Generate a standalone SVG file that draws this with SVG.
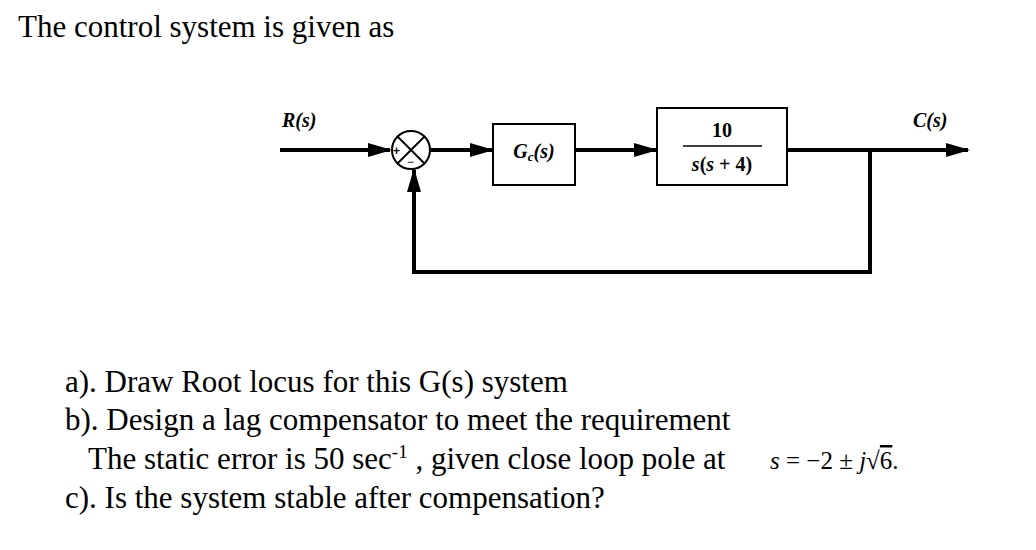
<svg xmlns="http://www.w3.org/2000/svg" width="1036" height="550" viewBox="0 0 1036 550">
<style>
.t{font-family:"Liberation Serif",serif;font-size:31px;fill:#000}
.d{font-family:"Liberation Serif",serif;font-size:20px;font-weight:bold;fill:#000}
.w{stroke:#000;stroke-width:4;fill:none}
.b{stroke:#000;stroke-width:2;fill:#fff}
</style>
<defs><marker id="a" viewBox="0 0 24 14" markerWidth="24" markerHeight="14" refX="22" refY="7" orient="auto" markerUnits="userSpaceOnUse"><path d="M0,0L24,7L0,14z" fill="#000"/></marker></defs>
<rect width="1036" height="550" fill="#fff"/>
<text class="t" x="18" y="37" font-size="32">The control system is given as</text>
<g id="connectors">
<path class="w" d="M280,150H390" marker-end="url(#a)"/>
<path class="w" d="M430,150H492" marker-end="url(#a)"/>
<path class="w" d="M576,150H656" marker-end="url(#a)"/>
<path class="w" d="M788,150H968" marker-end="url(#a)"/>
<path class="w" d="M870,150V272H414V170" marker-end="url(#a)"/>
</g>
<g id="sum"><circle class="b" cx="411" cy="150" r="19"/><path d="M397,136L425,164M425,136L397,164" stroke="#000" stroke-width="2"/><text x="393" y="155" font-family="Liberation Sans,sans-serif" font-size="12" font-weight="bold">+</text><text x="407" y="166" font-family="Liberation Sans,sans-serif" font-size="12">−</text></g>
<g id="gc"><rect class="b" x="493" y="124" width="82" height="61"/><text class="d" x="534" y="158" text-anchor="middle" font-style="italic">G<tspan font-size="13" dy="3">c</tspan><tspan dy="-3">(s)</tspan></text></g>
<g id="plant"><rect class="b" x="657" y="108" width="130" height="77"/><text class="d" x="722" y="137" text-anchor="middle">10</text><line x1="683" y1="146" x2="762" y2="146" stroke="#000" stroke-width="1.5"/><text class="d" x="722" y="171" text-anchor="middle"><tspan font-style="italic">s</tspan>(<tspan font-style="italic">s</tspan> + 4)</text></g>
<text class="d" x="282" y="127" font-style="italic">R(s)</text>
<text class="d" x="913" y="127" font-style="italic">C(s)</text>
<text class="t" x="65" y="392">a). Draw Root locus for this G(s) system</text>
<text class="t" x="65" y="430">b). Design a lag compensator to meet the requirement</text>
<text class="t" x="88" y="469">The static error is 50 sec<tspan font-size="19" dy="-11">-1</tspan><tspan dy="11"> , given close loop pole at</tspan></text>
<text x="770" y="469" font-family="Liberation Serif,serif" font-size="25"><tspan font-style="italic">s</tspan> = −2 ± <tspan font-style="italic">j</tspan>√<tspan text-decoration="overline">6</tspan>.</text>
<text class="t" x="65" y="508">c). Is the system stable after compensation?</text>
</svg>
